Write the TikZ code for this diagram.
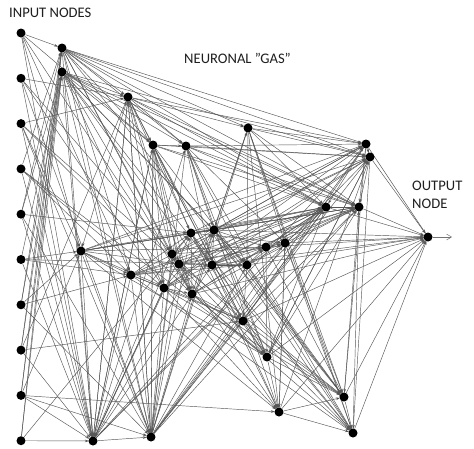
\documentclass[tikz,border=0pt]{standalone}
\usepackage{fontspec}
\setmainfont{Carlito}
\usetikzlibrary{arrows.meta,backgrounds}
\tikzset{
  neuron/.style={circle,fill=black,inner sep=0pt,minimum size=9pt},
  edge/.style={draw=black!66,line width=0.45pt,-{Stealth[length=4pt,width=2.6pt]},shorten >=-0.5pt},
  lbl/.style={font=\fontsize{14.6}{17}\selectfont,inner sep=0pt,anchor=west,text=black!88}
}
\begin{document}
\begin{tikzpicture}[x=1pt,y=-1pt]
\useasboundingbox (0,0) rectangle (474,448);
\begin{scope}[on background layer]
\fill[white] (0,0) rectangle (474,448);
\end{scope}
% input nodes
\foreach \k in {1,...,10} \node[neuron] (i\k) at (21,{33+45.3*(\k-1)}) {};
% hidden nodes
\foreach \n/\x/\y in {h1/62/48, h2/62/72, h3/128/97, h4/153/145, h5/186/146, h6/248/128,
  h7/366/144, h8/370/157, h9/326/207, h10/359/207, h11/81/251, h12/191/233, h13/214/230,
  h14/172/254, h15/179/264, h16/212/265, h17/247/265, h18/266/247, h19/285/243,
  h20/131/275, h21/164/288, h22/192/294, h23/243/321, h24/267/357, h25/279/412,
  h26/344/397, h27/353/433, h28/93/441, h29/151/437, out/428/237}
  \node[neuron] (\n) at (\x,\y) {};
\coordinate (outend) at (452,237);
% connectors
\begin{scope}[on background layer]
\foreach \a/\b in {
 i1/h1, i1/h4, i1/h20, i1/h28, i1/h11, i1/h22,
 i2/h3, i2/h14, i2/h21, i2/h28, i2/h29,
 i3/h3, i3/h11, i3/h22, i3/h29, i3/h28, i3/h15,
 i4/h1, i4/h20, i4/h28, i4/h21, i4/h24,
 i5/h1, i5/h2, i5/h12, i5/h29, i5/h28,
 i6/h2, i6/h11, i6/h20, i6/h28, i6/h17,
 i7/h1, i7/h2, i7/h11, i7/h29, i7/h20,
 i8/h1, i8/h3, i8/h28, i8/h23, i8/h2,
 i9/h2, i9/h11, i9/h28, i9/h29, i9/h25, i9/h1,
 i10/h1, i10/h2, i10/h12, i10/h28,
 h1/h3, h1/h6, h1/h7, h1/h8, h1/h9, h1/h10, h1/h4, h1/h5, h1/h28, h1/h29, h1/h20, h1/h14, h1/h22, h1/h26,
 h2/h3, h2/h4, h2/h5, h2/h9, h2/h10, h2/h16, h2/h17, h2/h21, h2/h22, h2/h28, h2/h29, h2/h24, h2/h8, h2/h13,
 h3/h6, h3/h7, h3/h9, h3/h4, h3/h5, h3/h12, h3/h14, h3/h28, h3/h29, h3/h21, h3/h22, h3/h10, h3/h23, h3/h11,
 h4/h5, h4/h12, h4/h14, h4/h15, h4/h21, h4/h22, h4/h23, h4/h24, h4/h28, h4/h29, h4/h26, h4/h10, h4/h9, h4/h8,
 h5/h7, h5/h8, h5/h9, h5/h10, h5/h13, h5/h16, h5/h17, h5/h24, h5/h25, h5/h29, h5/h27, h5/h19,
 h6/h7, h6/h8, h6/h13, h6/h9, h6/h25, h6/h26, h6/h27, h6/h19, h6/h17, h6/h22, h6/h10,
 h7/h8, h7/h9, h7/h10, h7/out, h7/h26,
 h8/out, h8/h27, h8/h10, h8/h24,
 h9/out, h9/h10, h10/out,
 h11/h20, h11/h12, h11/h13, h11/h9, h11/h10, h11/h7, h11/h8, h11/h28, h11/h29, h11/h24, h11/h25, h11/h15, h11/h18, h11/h23,
 h12/h13, h12/h9, h12/h10, h12/h19, h12/h22, h12/h23, h12/h25, h12/h27, h12/h7, h12/h16,
 h13/h9, h13/h10, h13/h7, h13/h8, h13/h16, h13/h17, h13/h24, h13/h26, h13/h27, h13/h18, h13/out,
 h14/h15, h14/h12, h14/h9, h14/h18, h14/h23, h14/h25, h14/h29, h14/h28, h14/h7,
 h15/h16, h15/h9, h15/h10, h15/h19, h15/h24, h15/h26, h15/h29, h15/h22,
 h16/h17, h16/h18, h16/h9, h16/h10, h16/h25, h16/h27, h16/h8, h16/out,
 h17/h18, h17/h19, h17/h23, h17/h26, h17/h27, h17/h9, h17/out,
 h18/h19, h18/h9, h18/h10, h18/h24, h18/h26, h18/out,
 h19/h9, h19/h10, h19/h25, h19/h27, h19/h26, h19/out,
 h20/h21, h20/h12, h20/h16, h20/h17, h20/h9, h20/h10, h20/h28, h20/h29, h20/h23, h20/h27, h20/h18, h20/h8,
 h21/h22, h21/h9, h21/h13, h21/h19, h21/h7, h21/h8, h21/h25, h21/h26, h21/h29, h21/h28,
 h22/h23, h22/h24, h22/h9, h22/h18, h22/h10, h22/h26, h22/h27, h22/out,
 h23/h24, h23/h9, h23/h10, h23/h7, h23/h26, h23/h27, h23/out,
 h24/h25, h24/h9, h24/h10, h24/h8, h24/h26, h24/out,
 h25/h26, h25/h27, h25/out, h25/h19, h25/h8,
 h26/h27, h26/out, h26/h10, h27/out, h27/h10,
 h28/h29, h28/h3, h28/h12, h28/h13, h28/h16, h28/h7, h28/h8, h28/h9, h28/h21, h28/h4, h28/h5,
 h29/h22, h29/h23, h29/h12, h29/h13, h29/h17, h29/h7, h29/h8, h29/h9, h29/h10, h29/h3, h29/h6, h29/h4, h29/h19}
 \draw[edge] (\a) -- (\b);
\draw[draw=black!55,line width=0.5pt,-{Straight Barb[length=5pt,width=6pt]}] (out) -- (outend);
\end{scope}
% labels
\node[lbl] (tin) at (9,13) {INPUT NODES};
\node[lbl] (tgas) at (184,58) {NEURONAL \symbol{"22}GAS\symbol{"22}};
\node[lbl] (tout) at (412,186) {OUTPUT};
\node[lbl] (tnode) at (412,204) {NODE};
\end{tikzpicture}
\end{document}
